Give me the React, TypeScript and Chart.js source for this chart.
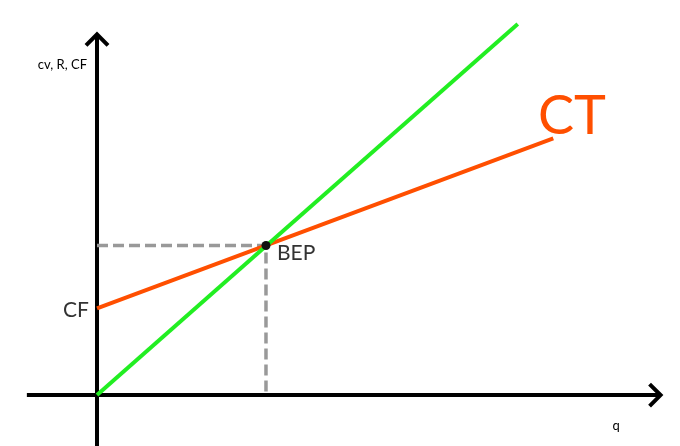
import { useEffect, useRef } from 'react'
import { Chart, registerables, type Plugin } from 'chart.js'

Chart.register(...registerables)

// q units: break-even at q = 10, value 10
const qRange = [-5.74, 34.5]
const vRange = [-3.4, 26.4]

const revenueLine = [
  { x: 0, y: 0 },
  { x: 24.9, y: 24.8 },
]
const totalCostLine = [
  { x: 0, y: 5.8 },
  { x: 27, y: 17.15 },
]
const bepGuide = [
  { x: 0, y: 10 },
  { x: 10, y: 10 },
  { x: 10, y: 0 },
]
const bepPoint = [{ x: 10, y: 10 }]
const xAxisLine = [
  { x: -4.15, y: 0 },
  { x: 33.35, y: 0 },
]
const yAxisLine = [
  { x: 0, y: -3.4 },
  { x: 0, y: 24.1 },
]

const FONT = 'Lato, "Noto Sans", sans-serif'

const annotations: Plugin<'scatter'> = {
  id: 'annotations',
  afterDatasetsDraw(chart) {
    const { ctx, scales } = chart
    const px = (v: number) => scales.x.getPixelForValue(v)
    const py = (v: number) => scales.y.getPixelForValue(v)

    ctx.save()
    // arrow heads
    ctx.strokeStyle = '#000'
    ctx.lineWidth = 4
    ctx.lineCap = 'butt'
    ctx.lineJoin = 'miter'
    const tipX = px(xAxisLine[1].x)
    const tipY = py(0)
    ctx.beginPath()
    ctx.moveTo(tipX - 11, tipY - 11)
    ctx.lineTo(tipX, tipY)
    ctx.lineTo(tipX - 11, tipY + 11)
    ctx.stroke()
    const topX = px(0)
    const topY = py(yAxisLine[1].y)
    ctx.beginPath()
    ctx.moveTo(topX - 11, topY + 11)
    ctx.lineTo(topX, topY)
    ctx.lineTo(topX + 11, topY + 11)
    ctx.stroke()

    // labels
    ctx.textBaseline = 'alphabetic'
    ctx.fillStyle = '#000'
    ctx.font = `13px ${FONT}`
    ctx.textAlign = 'right'
    ctx.fillText('cv, R, CF', px(0) - 10, 69)
    ctx.textAlign = 'left'
    ctx.fillText('q', px(30.5), py(0) + 35)

    ctx.fillStyle = '#333'
    ctx.font = `21px ${FONT}`
    ctx.textAlign = 'right'
    ctx.fillText('CF', px(0) - 8, py(5.8) + 9)
    ctx.textAlign = 'left'
    ctx.fillText('BEP', px(10) + 11, py(10) + 15)

    ctx.fillStyle = '#ff4f00'
    ctx.font = `54px ${FONT}`
    ctx.fillText('CT', px(26.1), py(17.15) - 4)
    ctx.restore()
  },
}

export default function App() {
  const canvasRef = useRef<HTMLCanvasElement | null>(null)

  useEffect(() => {
    document.body.style.margin = '0'
    let chart: Chart<'scatter'> | null = null
    let cancelled = false

    const build = () => {
      if (cancelled || !canvasRef.current) return
      chart = new Chart(canvasRef.current, {
        type: 'scatter',
        data: {
          datasets: [
            {
              label: 'BEP',
              data: bepPoint,
              pointRadius: 4.5,
              pointBackgroundColor: '#111',
              pointBorderWidth: 0,
              order: 0,
            },
            {
              label: 'R',
              data: revenueLine,
              showLine: true,
              borderColor: '#22ee22',
              borderWidth: 4,
              pointRadius: 0,
              order: 1,
            },
            {
              label: 'CT',
              data: totalCostLine,
              showLine: true,
              borderColor: '#ff4f00',
              borderWidth: 4,
              pointRadius: 0,
              order: 2,
            },
            {
              label: 'guide',
              data: bepGuide,
              showLine: true,
              borderColor: '#999999',
              borderWidth: 3.5,
              borderDash: [11, 5],
              pointRadius: 0,
              order: 3,
            },
            {
              label: 'xAxis',
              data: xAxisLine,
              showLine: true,
              borderColor: '#000',
              borderWidth: 4,
              pointRadius: 0,
              order: 4,
            },
            {
              label: 'yAxis',
              data: yAxisLine,
              showLine: true,
              borderColor: '#000',
              borderWidth: 4,
              pointRadius: 0,
              order: 4,
            },
          ],
        },
        options: {
          responsive: true,
          maintainAspectRatio: false,
          animation: false,
          clip: false,
          layout: { padding: 0, autoPadding: false },
          plugins: {
            legend: { display: false },
            tooltip: { enabled: false },
          },
          scales: {
            x: { type: 'linear', display: false, min: qRange[0], max: qRange[1] },
            y: { type: 'linear', display: false, min: vRange[0], max: vRange[1] },
          },
        },
        plugins: [annotations],
      })
    }

    Promise.all([
      document.fonts.load(`13px Lato`),
      document.fonts.load(`54px Lato`),
    ])
      .catch(() => undefined)
      .then(build)

    return () => {
      cancelled = true
      chart?.destroy()
    }
  }, [])

  return (
    <div style={{ width: 680, height: 446, background: '#fff' }}>
      <canvas ref={canvasRef} />
    </div>
  )
}
